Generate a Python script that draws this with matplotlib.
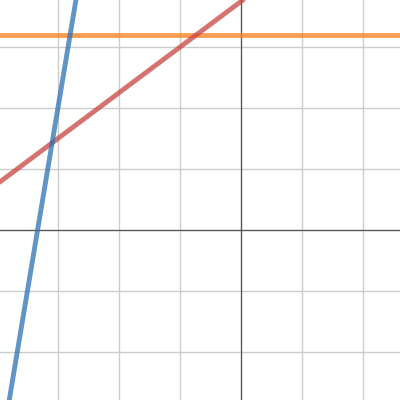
import matplotlib.pyplot as plt
import numpy as np

# line endpoints (graph units)
blue_x = [-3.8, -2.7]
blue_y = [-2.8, 3.8]
red_x = [-4.0, 0.1]
red_y = [0.75, 3.82]
orange_x = [-4.0, 2.7]
orange_y = [3.2, 3.2]

fig = plt.figure(figsize=(4, 4), dpi=100)
ax = fig.add_axes([0, 0, 1, 1])
ax.set_xlim(-3.95, 2.61)
ax.set_ylim(-2.79, 3.77)

for v in range(-3, 3):
    ax.axvline(v, color='#cccccc', lw=1, zorder=0)
for v in range(-2, 4):
    ax.axhline(v, color='#cccccc', lw=1, zorder=0)
ax.axvline(0, color='#555555', lw=0.9, zorder=1)
ax.axhline(0, color='#555555', lw=0.9, zorder=1)

ax.plot(orange_x, orange_y, color='#fa7e19', lw=3.5, alpha=0.75, solid_capstyle='butt')
ax.plot(red_x, red_y, color='#c74440', lw=3.5, alpha=0.75, solid_capstyle='butt')
ax.plot(blue_x, blue_y, color='#2d70b3', lw=3.5, alpha=0.75, solid_capstyle='butt')

ax.set_xticks([])
ax.set_yticks([])
for s in ax.spines.values():
    s.set_visible(False)

fig.savefig('out.png')
